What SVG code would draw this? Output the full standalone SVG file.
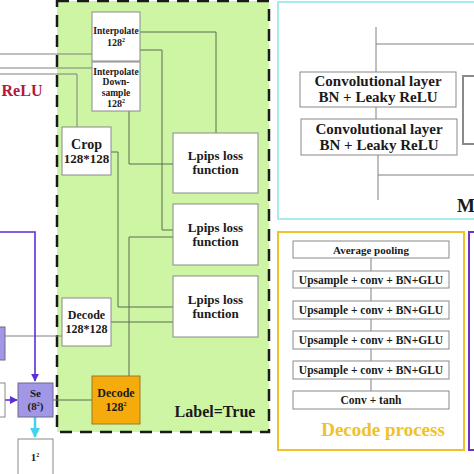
<svg xmlns="http://www.w3.org/2000/svg" width="474" height="474" viewBox="0 0 474 474">
<style>
text{font-family:"Liberation Serif","Times New Roman",serif;font-weight:bold;fill:#1a1a1a;text-anchor:middle}
.wb{fill:#fff;stroke:#8a8a8a;stroke-width:1}
.ln{fill:none;stroke:#5d6a52;stroke-width:1}
.gl{fill:none;stroke:#808080;stroke-width:1}
.pl{fill:none;stroke:#5b2fd6;stroke-width:1.6}
.sup{font-size:6px}
</style>
<defs>
<marker id="pa" viewBox="0 0 10 10" refX="9" refY="5" markerWidth="5" markerHeight="5" orient="auto"><path d="M0,0L10,5L0,10z" fill="#5b2fd6"/></marker>
<marker id="ca" viewBox="0 0 10 10" refX="9" refY="5" markerWidth="4" markerHeight="4" orient="auto"><path d="M0,0L10,5L0,10z" fill="#46d2ee"/></marker>
</defs>
<rect width="474" height="474" fill="#fff"/>
<g id="label-true-region">
<rect x="57" y="1" width="212" height="431" fill="#cdf5a3" stroke="#1a1a1a" stroke-width="2.5" stroke-dasharray="12,8"/>
<text x="215" y="417" font-size="16">Label=True</text>
</g>
<g id="mapping-region">
<rect x="278" y="2" width="200" height="217" fill="#fff" stroke="#a6ecee" stroke-width="2"/>
<text x="466" y="212" font-size="19">M</text>
</g>
<g id="decode-process-region">
<rect x="278" y="232" width="186" height="218" fill="#fff" stroke="#f0c22a" stroke-width="2"/>
<text x="383" y="436" font-size="19" style="fill:#f0c22a">Decode process</text>
</g>
<g id="purple-region">
<rect x="469" y="232" width="20" height="218" fill="#fff" stroke="#6a34c8" stroke-width="2"/>
</g>
<g id="relu-label"><text x="22" y="96" font-size="16" style="fill:#b5183c">ReLU</text></g>

<g id="connectors">
<path class="gl" d="M0,54H92M0,68H92M0,74H77V127"/>
<path class="ln" d="M140,32H216V133M140,50H162V230H173M129,111V164H173M111,152H118V307H173M111,322H173M129,376V237H173M53,400H92"/>
<path class="gl" d="M0,336H62"/>
<path class="pl" d="M0,232H35V381" marker-end="url(#pa)"/>
<path class="pl" d="M5,400H17" marker-end="url(#pa)"/>
<path d="M35,417V437" stroke="#46d2ee" stroke-width="2.5" fill="none" marker-end="url(#ca)"/>
<path class="gl" d="M376,27V72M376,44H474M376,107V119M378,155V200M378,175H474"/>
<path class="gl" d="M371,258V271M371,288V301M371,319V331M371,349V361M371,379V391"/>
</g>

<g id="interp1"><rect class="wb" x="92" y="12" width="48" height="49"/><text x="116" y="34" font-size="9.5">Interpolate</text><text x="116" y="46" font-size="10">128<tspan class="sup" dy="-4">2</tspan></text></g>
<g id="interp2"><rect class="wb" x="92" y="62" width="48" height="49"/><text x="116" y="75" font-size="9.5">Interpolate</text><text x="116" y="85" font-size="9.5">Down-</text><text x="116" y="96" font-size="9.5">sample</text><text x="116" y="107" font-size="10">128<tspan class="sup" dy="-4">2</tspan></text></g>
<g id="crop"><rect class="wb" x="62" y="127" width="49" height="48"/><text x="86.5" y="149" font-size="14">Crop</text><text x="86.5" y="163" font-size="13">128*128</text></g>
<g id="lpips1"><rect class="wb" x="173" y="133" width="85" height="60"/><text x="215.5" y="160" font-size="13">Lpips loss</text><text x="215.5" y="174" font-size="13">function</text></g>
<g id="lpips2"><rect class="wb" x="173" y="204" width="85" height="61"/><text x="215.5" y="232" font-size="13">Lpips loss</text><text x="215.5" y="246" font-size="13">function</text></g>
<g id="lpips3"><rect class="wb" x="173" y="276" width="85" height="61"/><text x="215.5" y="304" font-size="13">Lpips loss</text><text x="215.5" y="318" font-size="13">function</text></g>
<g id="decode128x128"><rect class="wb" x="62" y="298" width="49" height="48"/><text x="86.5" y="319" font-size="12">Decode</text><text x="86.5" y="333" font-size="12">128*128</text></g>
<g id="decode128sq"><rect x="92" y="376" width="48" height="48" fill="#f6ab0c" stroke="#9a7a20" stroke-width="1"/><text x="116" y="397" font-size="12">Decode</text><text x="116" y="411" font-size="12">128<tspan class="sup" dy="-5">2</tspan></text></g>
<g id="se"><rect x="18" y="383" width="35" height="34" fill="#a197e6" stroke="#6a6a8a" stroke-width="1"/><text x="35.5" y="397" font-size="11">Se</text><text x="35.5" y="410" font-size="11">(8<tspan class="sup" dy="-4">2</tspan><tspan dy="4">)</tspan></text></g>
<g id="one"><rect class="wb" x="18" y="439" width="35" height="40"/><text x="35" y="461" font-size="11">1<tspan class="sup" dy="-4">2</tspan></text></g>
<g id="left-white"><rect class="wb" x="-5" y="383" width="10" height="34"/></g>
<g id="left-purple"><rect x="-5" y="327" width="10" height="33" fill="#a197e6" stroke="#6a6a8a" stroke-width="1"/></g>

<g id="conv1"><rect class="wb" x="300" y="72" width="156" height="35"/><text x="378" y="86" font-size="15">Convolutional layer</text><text x="378" y="102" font-size="15">BN + Leaky ReLU</text></g>
<g id="conv2"><rect class="wb" x="301" y="119" width="156" height="36"/><text x="379" y="134" font-size="15">Convolutional layer</text><text x="379" y="150" font-size="15">BN + Leaky ReLU</text></g>
<g id="gray-box"><rect x="463" y="76" width="20" height="68" fill="#fff" stroke="#8a8a8a" stroke-width="2"/></g>

<g id="avgpool"><rect class="wb" x="293" y="241" width="156" height="17"/><text x="371" y="254" font-size="11">Average pooling</text></g>
<g id="up1"><rect class="wb" x="293" y="271" width="156" height="17"/><text x="371" y="284" font-size="11.5">Upsample + conv + BN+GLU</text></g>
<g id="up2"><rect class="wb" x="293" y="301" width="156" height="18"/><text x="371" y="314" font-size="11.5">Upsample + conv + BN+GLU</text></g>
<g id="up3"><rect class="wb" x="293" y="331" width="156" height="18"/><text x="371" y="344" font-size="11.5">Upsample + conv + BN+GLU</text></g>
<g id="up4"><rect class="wb" x="293" y="361" width="156" height="18"/><text x="371" y="374" font-size="11.5">Upsample + conv + BN+GLU</text></g>
<g id="convtanh"><rect class="wb" x="293" y="391" width="156" height="18"/><text x="371" y="404" font-size="11.5">Conv + tanh</text></g>
</svg>
